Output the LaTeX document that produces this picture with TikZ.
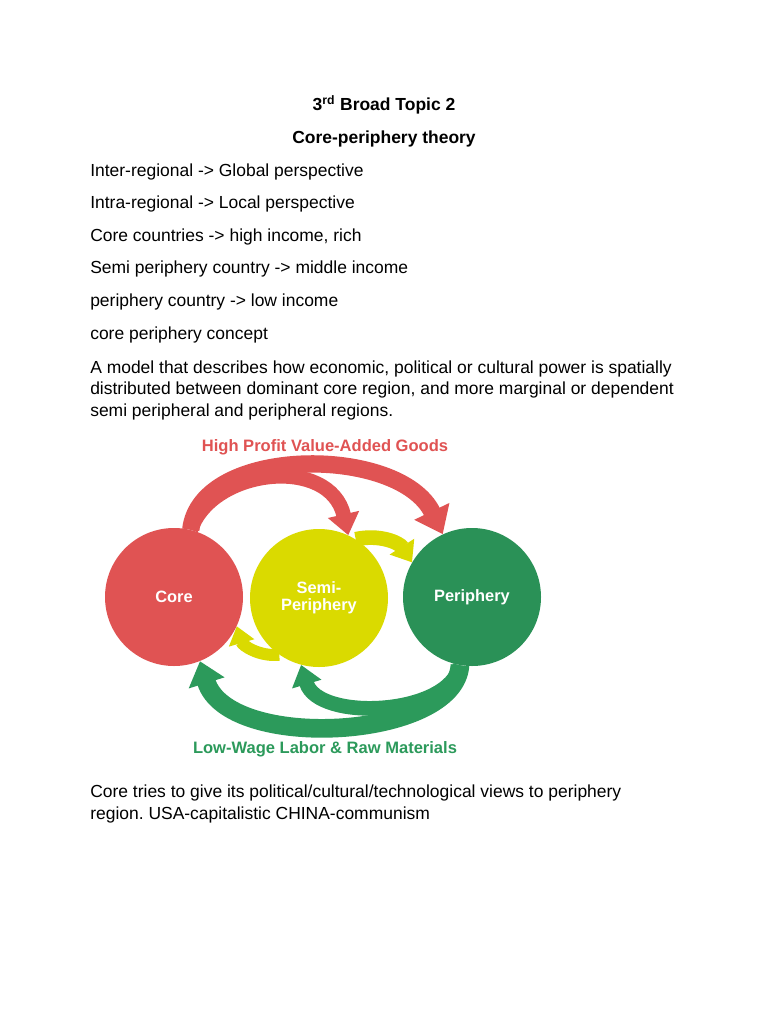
\documentclass[tikz,border=0pt]{standalone}
\usepackage{fontspec}
\setmainfont{Liberation Sans}
\usetikzlibrary{arrows.meta,backgrounds}
\definecolor{corered}{HTML}{E05353}
\definecolor{semiyel}{HTML}{DADA00}
\definecolor{perigrn}{HTML}{2A9157}
\definecolor{flowgrn}{HTML}{2C9A5B}
\frenchspacing

\begin{document}
\begin{tikzpicture}[x=0.75pt, y=-0.75pt,
    textline/.style={anchor=base west, inner sep=0pt, font=\fontsize{13.1}{16.1}\selectfont},
    heading/.style={anchor=base, inner sep=0pt, font=\fontsize{13.1}{16}\selectfont\bfseries},
    region/.style={circle, fill=#1, minimum size=103.5pt, inner sep=0pt, text=white,
        align=center, font=\fontsize{12.3}{12.8}\selectfont\bfseries},
    flowlabel/.style={anchor=base, inner sep=0pt, font=\fontsize{12.4}{14}\selectfont\bfseries},
    flow/.style={line width=#1}]

    \useasboundingbox (0,0) rectangle (768,1024);

    \node [heading] (topic) at (384,110) {3\textsuperscript{rd} Broad Topic 2};
    \node [heading] (theory) at (384,143) {Core-periphery theory};

    \node [textline] (inter) at (90,176) {Inter-regional -> Global perspective};
    \node [textline] (intra) at (90,208.6) {Intra-regional -> Local perspective};
    \node [textline] (corec) at (90,241.2) {Core countries -> high income, rich};
    \node [textline] (semic) at (90,273.8) {Semi periphery country -> middle income};
    \node [textline] (peric) at (90,306.4) {periphery country -> low income};
    \node [textline] (concept) at (90,339) {core periphery concept};
    \node [textline, align=left] (model) at (90,416)
          {A model that describes how economic, political or cultural power is spatially\\
           distributed between dominant core region, and more marginal or dependent\\
           semi peripheral and peripheral regions.};

    % the three regions
    \node [region=corered] (core) at (174,597) {Core};
    \node [region=semiyel] (semi) at (319,598) {Semi-\\Periphery};
    \node [region=perigrn] (peri) at (472,597) {Periphery};

    \node [flowlabel, text=corered] (goods) at (325,451) {High Profit Value-Added Goods};
    \node [flowlabel, text=flowgrn] (labor) at (325,753) {Low-Wage Labor \& Raw Materials};

    \begin{scope}[on background layer]
        \fill [white] (0,0) rectangle (768,1024);
        % goods going out of the core
        \draw [flow=13pt, draw=corered, -{Triangle[width=28pt,length=19pt]}]
              (core.76) .. controls (200,445) and (400,445) .. (peri.115);
        \draw [flow=11pt, draw=corered, -{Triangle[width=23pt,length=16pt]}]
              (core.76) .. controls (212,468) and (330,455) .. (semi.65);
        \draw [flow=11pt, draw=semiyel, -{Triangle[width=21pt,length=14pt]}]
              (semi.58) to [bend left=35] (peri.150);
        % labour and raw materials going back
        \draw [flow=9pt, draw=semiyel, -{Triangle[width=19pt,length=13pt]}]
              (semi.235) to [bend left=40] (core.-25);
        \draw [flow=14pt, draw=flowgrn, -{Triangle[width=27pt,length=17pt]}]
              (peri.-100) .. controls (455,740) and (228,752) .. (core.-68);
        \draw [flow=11pt, draw=flowgrn, -{Triangle[width=22pt,length=15pt]}]
              (peri.-100) .. controls (450,716) and (318,722) .. (semi.-105);
    \end{scope}

    \node [textline, align=left] (views) at (90,819)
          {Core tries to give its political/cultural/technological views to periphery\\
           region. USA-capitalistic CHINA-communism};
\end{tikzpicture}
\end{document}
